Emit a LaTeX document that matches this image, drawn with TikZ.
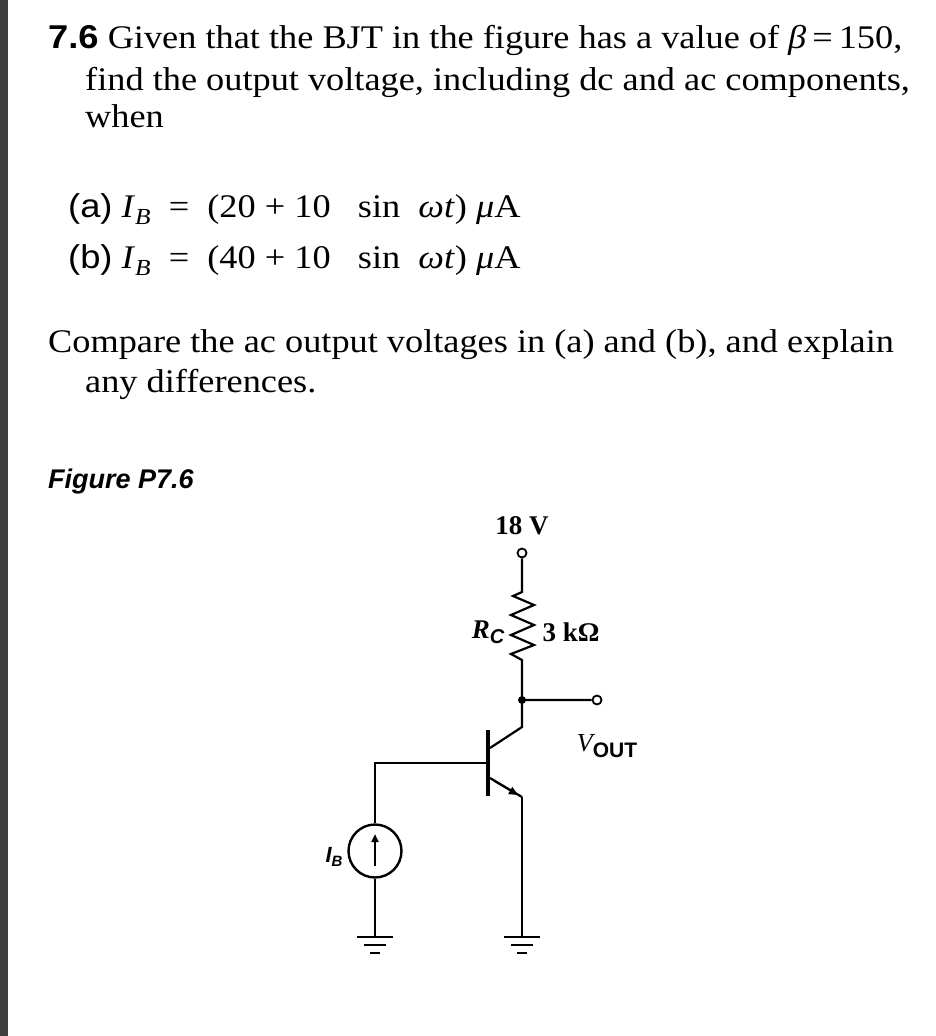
\documentclass[tikz,border=0pt]{standalone}
\usepackage{fontspec}
\setmainfont{Liberation Serif}
\newfontfamily\hsans{Liberation Sans}
\usetikzlibrary{arrows.meta}
\newcommand{\ibsym}{\textit{I}\raisebox{-0.22em}{\fontsize{23}{24}\selectfont\textit{B}}}
\begin{document}
\begin{tikzpicture}[x=1pt,y=-1pt,
  txt/.style={anchor=base west,inner sep=0pt,xscale=1.1,font=\fontsize{33}{38}\selectfont},
  lbl/.style={inner sep=0pt,font=\fontsize{27}{30}\selectfont},
  wire/.style={line width=2.2pt},
  term/.style={circle,draw,line width=1.8pt,inner sep=0pt,minimum size=9pt,fill=white}]
\useasboundingbox (0,0) rectangle (936,1036);
\fill[black!75] (0,0) rectangle (8,1036);
% text
\node[txt] (t1) at (48,48) {{\hsans\bfseries 7.6} Given that the BJT in the figure has a value of \textit{β}\,=\,150,};
\node[txt] (t2) at (85,90) {find the output voltage, including dc and ac components,};
\node[txt] (t3) at (85,127) {when};
\node[txt] (ta) at (68,217) {{\hsans(a)} \ibsym\ \ =\ \ (20\ +\ 10\ \ \ sin\ \ \textit{ωt})\ \textit{μ}A};
\node[txt] (tb) at (68,268) {{\hsans(b)} \ibsym\ \ =\ \ (40\ +\ 10\ \ \ sin\ \ \textit{ωt})\ \textit{μ}A};
\node[txt] (tc) at (48,352) {Compare the ac output voltages in (a) and (b), and explain};
\node[txt] (td) at (85,392) {any differences.};
\node[anchor=base west,inner sep=0pt,font=\hsans\bfseries\itshape\fontsize{27}{30}\selectfont] (fig) at (48,488) {Figure P7.6};
% circuit
\node[term] (vcc) at (522,553) {};
\node[lbl,font=\bfseries\fontsize{27}{30}\selectfont] (vlab) at (522,526) {18 V};
\coordinate (rt) at (522,592);
\coordinate (rb) at (522,660);
\coordinate (c) at (522,700);
\node[term] (out) at (597,700) {};
\fill (c) circle (4pt);
\draw[wire] (vcc) -- (rt) -- (513,596) -- (534,605) -- (511,615) -- (534,625) -- (511,635) -- (534,645) -- (511,654) -- (rb) -- (c) -- (out);
\node[lbl,font=\bfseries\itshape\fontsize{27}{30}\selectfont] (rc) at (488,632) {R\raisebox{-5pt}{\fontsize{20}{22}\selectfont\hsans C}};
\node[lbl,font=\bfseries\fontsize{27}{30}\selectfont] (rv) at (571,632) {3 kΩ};
\node[lbl,font=\itshape\fontsize{26}{30}\selectfont] (vo) at (607,746) {V\raisebox{-6pt}{\upshape\hsans\bfseries\fontsize{21}{22}\selectfont OUT}};
% transistor
\coordinate (bar1) at (488,730);
\coordinate (bar2) at (488,796);
\draw[line width=4pt] (bar1) -- (bar2);
\coordinate (base) at (488,763);
\coordinate (ce) at (522,727);
\draw[wire] (c) -- (ce) -- (490,748);
\coordinate (ee) at (522,797);
\draw[wire] (490,778) -- (ee);
\draw[-{Triangle[length=9pt,width=8pt]},line width=1.5pt] (494,781) -- (518,795);
\coordinate (g2) at (522,937);
\draw[wire] (ee) -- (g2);
\coordinate (bl) at (375,763);
\node[circle,draw,line width=2.4pt,minimum size=53pt,inner sep=0pt] (src) at (375,851) {};
\draw[wire] (base) -- (bl) -- (src.north);
\draw[line width=2pt,-{Triangle[length=8pt,width=7pt]}] (375,866) -- (375,834);
\node[lbl,font=\hsans\bfseries\itshape\fontsize{22}{24}\selectfont] (ib) at (334,857) {I\raisebox{-4pt}{\fontsize{15}{16}\selectfont B}};
\coordinate (g1) at (375,937);
\draw[wire] (src.south) -- (g1);
\foreach \g in {g1,g2}{
  \draw[line width=2.4pt] ([xshift=-18pt]\g) -- ([xshift=18pt]\g);
  \draw[line width=2.4pt] ([xshift=-11pt,yshift=-8pt]\g) -- ([xshift=11pt,yshift=-8pt]\g);
  \draw[line width=2.4pt] ([xshift=-5pt,yshift=-16pt]\g) -- ([xshift=5pt,yshift=-16pt]\g);
}
\end{tikzpicture}
\end{document}
